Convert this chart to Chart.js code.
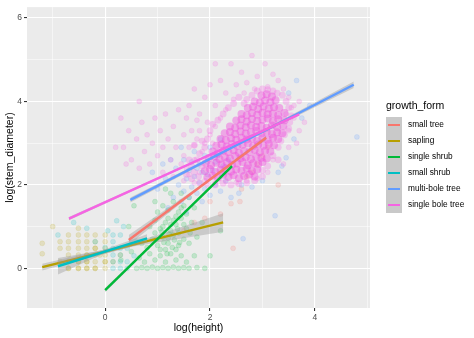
<!DOCTYPE html>
<html>
<head>
<meta charset="utf-8">
<script src="https://cdn.jsdelivr.net/npm/chart.js@4"></script>
<style>
  body { margin: 0; background: #fff; }
</style>
</head>
<body>
<canvas id="myChart" width="474" height="338"></canvas>
<script>
// growth forms, in legend order, with the ggplot hue colours
const groups = ["small tree", "sapling", "single shrub", "small shrub", "multi-bole tree", "single bole tree"];
const groupColors = ["#F8766D", "#B79F00", "#00BA38", "#00BFC4", "#619CFF", "#F564E3"];

const xTicks = [-1, 0, 1, 2, 3, 4, 5];
const yTicks = [0, 1, 2, 3, 4, 5, 6];

// fitted lines: [x, y] at each end
const fitSmallTree = [[0.45, 0.68], [3.07, 3.13]];
const fitSapling = [[-1.2, 0.03], [2.25, 1.1]];
const fitSingleShrub = [[0.0, -0.52], [2.42, 2.45]];
const fitSmallShrub = [[-0.9, 0.05], [0.8, 0.72]];
const fitMultiBole = [[0.48, 1.64], [4.74, 4.4]];
const fitSingleBole = [[-0.69, 1.19], [3.7, 3.69]];

// half width of the confidence band at start, middle, end
const seSmallTree = [0.12, 0.03, 0.05];
const seSapling = [0.08, 0.04, 0.22];
const seSingleShrub = [0.05, 0.02, 0.04];
const seSmallShrub = [0.2, 0.05, 0.1];
const seMultiBole = [0.06, 0.02, 0.08];
const seSingleBole = [0.04, 0.02, 0.03];

// observations: [log(height), log(stem_diameter)]
const singleBoleDense = [
  [1.95,2.18],[2.05,2.22],[2.15,2.17],[2.25,2.24],[2.35,2.19],[2.45,2.23],[2.55,2.16],[2.65,2.21],[2.75,2.25],[2.85,2.2],
  [1.9,2.33],[2.0,2.38],[2.1,2.31],[2.2,2.36],[2.3,2.4],[2.4,2.32],[2.5,2.37],[2.6,2.34],[2.7,2.39],[2.8,2.33],[2.9,2.37],
  [1.92,2.52],[2.02,2.47],[2.12,2.53],[2.22,2.49],[2.32,2.54],[2.42,2.48],[2.52,2.51],[2.62,2.55],[2.72,2.47],[2.82,2.52],[2.92,2.5],[3.0,2.55],
  [1.98,2.64],[2.08,2.68],[2.18,2.62],[2.28,2.67],[2.38,2.63],[2.48,2.69],[2.58,2.64],[2.68,2.66],[2.78,2.62],[2.88,2.68],[2.98,2.65],[3.08,2.63],
  [2.05,2.8],[2.15,2.76],[2.25,2.82],[2.35,2.78],[2.45,2.83],[2.55,2.77],[2.65,2.81],[2.75,2.79],[2.85,2.84],[2.95,2.78],[3.05,2.82],[3.15,2.8],
  [2.12,2.94],[2.22,2.97],[2.32,2.92],[2.42,2.98],[2.52,2.93],[2.62,2.96],[2.72,2.99],[2.82,2.93],[2.92,2.97],[3.02,2.94],[3.12,2.98],[3.22,2.95],
  [2.2,3.1],[2.3,3.07],[2.4,3.12],[2.5,3.08],[2.6,3.13],[2.7,3.09],[2.8,3.11],[2.9,3.06],[3.0,3.12],[3.1,3.08],[3.2,3.13],[3.3,3.1],
  [2.28,3.24],[2.38,3.27],[2.48,3.22],[2.58,3.28],[2.68,3.23],[2.78,3.26],[2.88,3.29],[2.98,3.23],[3.08,3.27],[3.18,3.22],[3.28,3.26],[3.38,3.24],
  [2.38,3.4],[2.48,3.37],[2.58,3.42],[2.68,3.38],[2.78,3.43],[2.88,3.39],[2.98,3.41],[3.08,3.37],[3.18,3.42],[3.28,3.38],[3.4,3.41],
  [2.5,3.54],[2.6,3.57],[2.7,3.52],[2.8,3.58],[2.9,3.53],[3.0,3.56],[3.1,3.59],[3.2,3.53],[3.3,3.57],[3.42,3.55],
  [2.6,3.7],[2.7,3.67],[2.8,3.72],[2.9,3.68],[3.0,3.73],[3.1,3.69],[3.2,3.71],[3.3,3.67],[3.42,3.72],
  [2.72,3.84],[2.82,3.87],[2.92,3.82],[3.02,3.88],[3.12,3.83],[3.22,3.86],[3.32,3.84],
  [2.85,4.0],[2.95,3.97],[3.05,4.02],[3.15,3.98],[3.25,4.03],
  [2.98,4.14],[3.08,4.17],[3.18,4.12]
];
const singleBoleEdge = [
  [1.55,2.25],[1.65,2.45],[1.7,2.3],[1.75,2.6],[1.8,2.75],[1.85,2.45],[1.6,2.6],[1.9,2.9],[1.95,3.1],[2.0,3.3],
  [1.85,3.05],[1.7,2.95],[2.05,3.45],[2.15,3.55],[2.25,3.7],[2.35,3.85],[2.45,3.95],[2.55,4.1],[1.78,2.2],[1.65,2.15],
  [3.2,2.7],[3.3,2.9],[3.35,3.05],[3.42,3.2],[3.5,3.35],[3.52,3.5],[3.55,3.65],[3.5,3.85],[3.45,4.0],[3.38,4.15],
  [3.3,2.6],[3.1,2.45],[3.0,2.35],
  [2.7,4.05],[2.8,4.15],[2.9,4.25],[3.0,4.3],[3.1,4.28],[3.2,4.25],[3.28,4.2],[2.65,3.95],
  [1.8,2.05],[1.95,2.02],[2.1,2.0],[2.25,2.04],[2.4,2.0],[2.55,2.03],[2.7,2.05],[2.85,2.1],[3.0,2.2]
];
const singleBoleSpread = [
  [0.35,2.9],[0.45,3.3],[0.5,2.6],[0.6,3.1],[0.65,2.4],[0.7,3.5],[0.75,2.8],[0.8,3.2],[0.85,2.5],[0.9,3.0],
  [0.95,3.6],[1.0,2.7],[1.05,3.3],[1.1,2.3],[1.1,2.9],[1.15,3.7],[1.2,3.1],[1.25,2.6],[1.3,3.4],[1.3,2.2],
  [1.35,2.9],[1.4,3.8],[1.45,2.5],[1.5,3.2],[1.5,2.7],[0.65,4.0],[0.3,3.6],[0.2,2.9],[0.4,2.5],
  [1.55,2.4],[1.6,2.9],[1.65,3.3],[1.7,2.6],[1.75,3.1],[1.8,2.3],[1.85,2.8],[1.6,2.25],[1.7,2.95],[1.8,3.3],
  [1.9,3.0],[2.0,3.2],[2.1,3.4],[1.95,3.5],[2.2,3.6],[2.3,3.8],[1.75,3.55],[2.05,3.0],[1.55,3.6],
  [2.8,5.1],[2.1,4.9],[2.4,4.9],[1.7,4.3],[3.05,4.9],[3.2,4.65],[2.6,4.7],[2.9,4.6],[3.3,4.5],[2.5,4.4],
  [2.2,4.5],[1.9,4.1],[2.0,4.4],[2.3,4.2],[2.7,4.45],[3.4,4.3],[3.5,4.1],[3.6,3.9],[1.6,3.9],[1.8,3.7],
  [2.1,3.9],[2.45,4.05],[2.65,4.2],[2.85,4.3],[3.1,4.35],
  [3.6,3.6],[3.7,3.3],[3.5,2.9],[3.4,2.5],[3.65,3.0],[3.8,3.5],[3.55,3.85],[3.7,4.0],[3.5,3.3],[3.45,3.7],
  [1.5,2.1],[1.7,2.05],[1.9,2.1],[2.1,2.05],[2.3,2.08],[2.5,2.06],[2.7,2.1],[2.9,2.15],[3.1,2.3],[3.2,2.6]
];
const multiBolePts = [
  [1.3,1.7],[1.4,2.0],[1.45,1.6],[1.5,1.85],[1.55,2.15],[1.6,1.7],[1.65,1.95],[1.7,2.2],[1.75,1.8],[1.8,2.05],
  [1.85,1.6],[1.9,1.9],[1.95,2.25],[2.0,1.75],[2.1,2.0],[2.2,1.85],[2.3,2.1],[2.4,1.7],[2.55,1.8],[2.6,2.0],
  [1.35,2.4],[1.5,2.6],[1.6,2.35],[1.7,2.8],[1.8,2.5],[1.9,2.7],[2.0,2.9],[2.1,2.55],[2.2,3.1],[1.45,2.9],
  [1.25,2.6],[1.15,2.15],[3.45,2.65],[3.6,3.1],[3.75,3.6],[3.65,4.5],[3.9,3.9],[3.5,4.2],[0.9,2.3],[1.0,1.9],
  [3.3,2.3],[3.0,2.1],[2.8,1.95],[1.2,1.45],[1.55,1.35],[1.1,2.5],[4.8,3.15],[3.24,1.26],[2.63,0.71],[3.37,2.45],
  [1.75,2.4],[1.95,2.55],[2.05,2.35],[2.15,2.7],[2.25,2.45],[1.85,2.3],[2.35,2.6],[1.65,2.55]
];
const smallTreePts = [
  [2.4,1.55],[2.57,1.6],[2.44,0.48],[2.2,1.3],[2.7,2.2],[2.9,2.5],[1.9,1.2],[2.0,1.6],[3.1,2.9],[2.6,1.9],
  [1.7,1.1],[2.8,2.3],[1.5,0.9],[3.0,2.7],[3.3,2.0]
];
const singleShrubPts = [
  [0.6,0.0],[0.7,0.02],[0.8,0.0],[0.9,0.03],[1.0,0.0],[1.1,0.02],[1.2,0.0],[1.3,0.03],[1.4,0.0],[1.5,0.02],[1.6,0.0],[1.75,0.02],[1.9,0.0],
  [0.65,0.25],[0.75,0.15],[0.85,0.35],[0.95,0.2],[1.05,0.3],[1.15,0.15],[1.25,0.35],[1.35,0.2],[1.45,0.3],[1.55,0.15],[1.7,0.3],
  [0.7,0.6],[0.8,0.5],[0.9,0.7],[1.0,0.55],[1.1,0.75],[1.2,0.6],[1.3,0.8],[1.4,0.55],[1.5,0.7],[1.6,0.6],[1.75,0.75],[0.95,0.85],[1.15,0.45],[1.35,0.45],
  [0.85,1.0],[0.95,1.15],[1.05,0.95],[1.15,1.1],[1.25,0.9],[1.35,1.05],[1.45,1.2],[1.55,0.95],[1.65,1.1],[1.2,1.2],[1.4,0.85],[1.1,1.0],
  [1.0,1.35],[1.1,1.5],[1.2,1.4],[1.3,1.6],[1.4,1.35],[1.5,1.5],[1.6,1.7],[1.25,1.8],[1.15,1.9],[1.45,1.8],[1.35,1.25],[1.7,1.45],[0.95,1.6],[1.55,1.3],
  [0.5,0.4],[2.0,0.3],[1.85,1.1],[0.45,1.0],[0.3,0.2],[2.2,0.9],[0.55,1.5],
  [1.12,0.62],[1.22,0.82],[1.32,0.68],[1.18,0.35],[1.28,0.5],[1.08,0.88],[1.38,0.95],[1.42,0.62],[1.25,1.05],[1.05,0.45],
  [1.3,1.15],[1.45,1.45],[1.2,0.72],[0.98,0.7],[1.5,1.05],[1.62,0.85]
];
const smallShrubPts = [
  [0.15,0.0],[0.15,0.16],[0.15,0.32],[0.15,0.48],[0.15,0.64],[0.29,0.0],[0.29,0.16],[0.29,0.32],[0.29,0.48],[0.29,0.8],
  [0.42,0.16],[0.42,0.48],[0.42,0.0],[0.0,0.5],[-0.19,0.64],[0.22,1.14],[0.55,0.3],[-0.35,0.96],[0.05,0.9],[0.6,0.64],
  [0.35,1.0],[-0.6,1.1],[-0.9,0.8],[0.15,0.8]
];
const saplingPts = [
  [-0.7,0.0],[-0.7,0.0],[-0.7,0.16],[-0.7,0.32],[-0.7,0.48],[-0.7,0.64],[-0.7,0.8],
  [-0.51,0.0],[-0.51,0.0],[-0.51,0.16],[-0.51,0.16],[-0.51,0.32],[-0.51,0.48],[-0.51,0.64],[-0.51,0.8],[-0.51,0.96],
  [-0.35,0.0],[-0.35,0.0],[-0.35,0.16],[-0.35,0.16],[-0.35,0.32],[-0.35,0.32],[-0.35,0.48],[-0.35,0.64],[-0.35,0.8],
  [-0.19,0.0],[-0.19,0.0],[-0.19,0.16],[-0.19,0.32],[-0.19,0.48],[-0.19,0.48],[-0.19,0.64],[-0.19,0.8],
  [0.0,0.0],[0.0,0.16],[0.0,0.16],[0.0,0.32],[0.0,0.48],[0.0,0.64],[0.0,0.8],
  [-0.86,0.16],[-0.86,0.48],[-0.86,0.64],[-1.2,0.6],[-1.2,0.35],[-1.0,1.0],[0.15,0.16],[0.29,0.32],[-0.1,0.32]
];

const toXY = arr => arr.map(([x, y]) => ({ x, y }));

// upper/lower edge of a band through start, middle and end of a fit
function bandEdge(fit, se, sign) {
  const [[x0, y0], [x1, y1]] = fit;
  const xm = (x0 + x1) / 2, ym = (y0 + y1) / 2;
  return [
    { x: x0, y: y0 + sign * se[0] },
    { x: xm, y: ym + sign * se[1] },
    { x: x1, y: y1 + sign * se[2] },
  ];
}

const fits = [fitSmallTree, fitSapling, fitSingleShrub, fitSmallShrub, fitMultiBole, fitSingleBole];
const ses = [seSmallTree, seSapling, seSingleShrub, seSmallShrub, seMultiBole, seSingleBole];

// smooth layers: drawn last group on top, band under its own line
const smoothSets = [];
for (let i = groups.length - 1; i >= 0; i--) {
  smoothSets.push({
    type: "line",
    label: groups[i],
    data: toXY(fits[i]),
    borderColor: groupColors[i],
    borderWidth: 2.4,
    pointRadius: 0,
    fill: false,
  });
  smoothSets.push({
    type: "line",
    label: groups[i] + " se",
    data: bandEdge(fits[i], ses[i], 1),
    borderWidth: 0,
    pointRadius: 0,
    fill: "+1",
    backgroundColor: "rgba(153,153,153,0.4)",
  });
  smoothSets.push({
    type: "line",
    label: groups[i] + " se low",
    data: bandEdge(fits[i], ses[i], -1),
    borderWidth: 0,
    pointRadius: 0,
    fill: false,
  });
}

function pts(data, color, alpha, r, bw) {
  return {
    type: "scatter",
    data: toXY(data),
    pointRadius: r,
    pointBorderWidth: bw,
    pointBackgroundColor: color + alpha,
    pointBorderColor: color + alpha,
  };
}

const pointSets = [
  pts(singleBoleDense, "#EE50DC", "70", 4, 0),
  pts(singleBoleEdge, "#F564E3", "4C", 3.4, 0),
  pts(singleBoleSpread, "#F564E3", "36", 2.5, 0.6),
  pts(multiBolePts, "#619CFF", "34", 2.5, 0.6),
  pts(smallTreePts, "#F8766D", "30", 2.5, 0.6),
  pts(singleShrubPts, "#00BA38", "2E", 2.5, 0.6),
  pts(smallShrubPts, "#00BFC4", "2E", 2.5, 0.6),
  pts(saplingPts, "#B79F00", "2E", 2.5, 0.6),
];

const panelBg = {
  id: "panelBg",
  beforeDraw(chart) {
    const { ctx, chartArea: a } = chart;
    ctx.save();
    ctx.fillStyle = "#EBEBEB";
    ctx.fillRect(a.left, a.top, a.right - a.left, a.bottom - a.top);
    ctx.restore();
  },
};

// ggplot style legend: title, grey keys with a coloured stroke
const smoothLegend = {
  id: "smoothLegend",
  afterDraw(chart) {
    const ctx = chart.ctx;
    const left = 386, top = 117, key = 16;
    ctx.save();
    ctx.fillStyle = "#000";
    ctx.font = "10.5px 'Liberation Sans', Arial, sans-serif";
    ctx.textBaseline = "middle";
    ctx.fillText("growth_form", left, 106);
    ctx.fillStyle = "#C9C9C9";
    ctx.fillRect(left, top, key, key * groups.length);
    ctx.font = "8.3px 'Liberation Sans', Arial, sans-serif";
    groups.forEach((g, i) => {
      const cy = top + key * i + key / 2;
      ctx.strokeStyle = groupColors[i];
      ctx.lineWidth = 2;
      ctx.beginPath();
      ctx.moveTo(left + 2, cy);
      ctx.lineTo(left + key - 2, cy);
      ctx.stroke();
      ctx.fillStyle = "#000";
      ctx.fillText(g, left + key + 6, cy);
    });
    ctx.restore();
  },
};

function axis(min, max, tickVals, title) {
  return {
    type: "linear",
    min: min,
    max: max,
    afterBuildTicks: s => { s.ticks = tickVals.filter(v => v >= min && v <= max).map(v => ({ value: v })); },
    border: { display: false },
    grid: {
      color: "#FFFFFF",
      lineWidth: c => (c.tick && c.tick.value % 2 === 0 ? 1.1 : 0.5),
      tickColor: c => (c.tick && c.tick.value % 2 === 0 ? "#333333" : "rgba(0,0,0,0)"),
      tickLength: 3,
    },
    ticks: {
      color: "#4D4D4D",
      font: { size: 8.5, family: "'Liberation Sans', Arial, sans-serif" },
      padding: 2,
      callback: v => (v % 2 === 0 ? String(v) : ""),
    },
    title: {
      display: true,
      text: title,
      color: "#000",
      font: { size: 10.5, family: "'Liberation Sans', Arial, sans-serif" },
      padding: { top: 4, bottom: 4 },
    },
  };
}

const xScale = axis(-1.49, 5.05, xTicks, "log(height)");
xScale.afterFit = s => { s.height = 30; };
const yScale = axis(-0.95, 6.26, yTicks, "log(stem_diameter)");
yScale.afterFit = s => { s.width = 27; };

new Chart(document.getElementById("myChart"), {
  type: "scatter",
  data: { datasets: smoothSets.concat(pointSets) },
  options: {
    responsive: false,
    animation: false,
    devicePixelRatio: 1,
    layout: { padding: { top: 5, right: 104, left: 0, bottom: 0 } },
    scales: { x: xScale, y: yScale },
    plugins: {
      legend: { display: false },
      tooltip: { enabled: false },
      filler: { drawTime: "beforeDatasetDraw" },
    },
  },
  plugins: [panelBg, smoothLegend],
});
</script>
</body>
</html>
